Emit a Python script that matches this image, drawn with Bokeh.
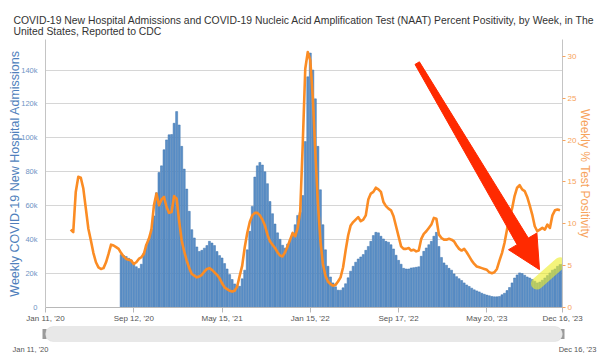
import numpy as np
from bokeh.plotting import figure
from bokeh.models import Range1d, LinearAxis, FixedTicker, BoxAnnotation, Label
from bokeh.layouts import column
from bokeh.embed import file_html
from bokeh.resources import INLINE

# ---------------- data ----------------
title_text = ("COVID-19 New Hospital Admissions and COVID-19 Nucleic Acid Amplification Test (NAAT) "
              "Percent Positivity, by Week, in The\nUnited States, Reported to CDC")
left_title = "Weekly COVID-19 New Hospital Admissions"
right_title = "Weekly % Test Positivity"

# week index 0 = Jan 11, 2020 ; last week 205 = Dec 16, 2023
tick_weeks = [0, 35, 70, 105, 140, 175, 205]
tick_labels = ["Jan 11, '20", "Sep 12, '20", "May 15, '21", "Jan 15, '22",
               "Sep 17, '22", "May 20, '23", "Dec 16, '23"]

left_ticks = [0, 20000, 40000, 60000, 80000, 100000, 120000, 140000]
left_tick_labels = ["0", "20k", "40k", "60k", "80k", "100k", "120k", "140k"]
right_ticks = [0, 5, 10, 15, 20, 25, 30]
right_tick_labels = ["0", "5", "10", "15", "20", "25", "30"]

# weekly new hospital admissions (thousands), weeks 30..205
adm_first_week = 30
admissions_k = [
    31.2, 30.6, 30.0, 29.0, 28.0, 26.5, 24.0, 23.0, 25.5, 32.0,
    37.0, 40.5, 46.0, 54.0, 67.6, 79.6, 83.5, 93.0, 98.8, 101.8,
    102.0, 108.6, 115.5, 107.6, 95.0, 81.6, 69.8, 56.7, 45.9, 41.0,
    35.7, 33.0, 33.7, 35.0, 36.5, 39.0, 38.0, 36.5, 33.0, 30.6,
    29.2, 25.9, 22.7, 19.4, 16.5, 13.9, 12.9, 12.5, 16.9, 22.0,
    34.0, 44.9, 59.6, 76.9, 83.5, 85.5, 84.0, 80.0, 73.0, 62.5,
    55.3, 49.2, 44.0, 40.2, 36.7, 35.0, 37.4, 40.0, 43.5, 48.8,
    54.3, 56.0, 66.0, 97.8, 136.0, 150.0, 140.0, 123.0, 95.0, 69.4,
    48.8, 34.0, 24.3, 18.0, 14.5, 12.2, 10.2, 10.2, 11.6, 14.0,
    17.5, 21.4, 24.3, 26.7, 28.6, 29.8, 31.2, 33.7, 36.0, 39.0,
    42.4, 44.3, 44.0, 42.0, 40.4, 39.0, 38.5, 37.0, 34.5, 30.8,
    27.8, 25.5, 23.1, 22.7, 22.7, 23.3, 23.5, 23.7, 24.0, 30.2,
    33.1, 35.1, 37.0, 39.0, 42.0, 44.3, 36.0, 29.5, 26.3, 24.9,
    23.1, 22.0, 19.8, 18.2, 17.0, 15.9, 14.5, 13.3, 12.4, 11.4,
    10.4, 9.8, 9.2, 8.4, 7.8, 7.3, 6.9, 6.5, 6.3, 6.3,
    6.5, 7.5, 8.4, 10.0, 11.8, 14.5, 17.4, 19.2, 20.4, 20.0,
    19.0, 18.0, 17.4, 16.5, 15.5, 14.5, 15.0, 16.1, 17.4, 18.8,
    20.4, 22.0, 22.7, 24.3, 25.3, 25.5,
]

# weekly NAAT percent positivity, weeks 10..204
pos_first_week = 10
positivity = [
    9.3, 9.0, 13.8, 15.6, 15.5, 14.2, 11.8, 9.4, 8.0, 6.5,
    5.4, 4.8, 4.6, 4.7, 5.4, 6.4, 7.5, 7.4, 7.2, 7.0,
    6.5, 6.1, 5.8, 5.7, 5.6, 5.2, 5.4, 5.8, 6.0, 6.4,
    7.5, 8.2, 9.3, 12.2, 13.6, 12.2, 12.9, 13.2, 12.0, 11.3,
    11.4, 13.3, 13.0, 10.3, 8.0, 6.7, 5.6, 4.7, 4.0, 3.8,
    3.6, 3.7, 3.9, 4.3, 4.6, 4.7, 4.5, 4.2, 3.9, 3.5,
    2.9, 2.4, 2.2, 2.0, 1.9, 2.0, 2.5, 3.8, 5.0, 7.2,
    8.9, 10.2, 11.0, 11.3, 11.3, 11.0, 10.5, 9.8, 8.7, 7.9,
    7.5, 7.1, 6.6, 6.2, 6.1, 6.6, 7.3, 8.1, 8.9, 8.5,
    9.5, 11.5, 19.5, 28.5, 30.5, 29.5, 25.0, 18.5, 12.5, 8.0,
    5.2, 3.8, 3.1, 2.8, 2.6, 2.7, 3.1, 3.6, 4.8, 6.8,
    8.6, 9.8, 10.2, 10.5, 10.8, 10.3, 10.5, 11.0, 12.9, 13.6,
    13.8, 14.3, 14.1, 13.8, 12.6, 12.1, 11.8, 11.6, 10.9, 9.7,
    8.5, 7.3, 7.0, 7.0, 7.1, 6.8, 6.9, 6.7, 6.8, 8.2,
    8.8, 9.1, 9.5, 9.9, 10.7, 10.6, 8.7, 8.3, 8.1, 8.1,
    8.2, 8.1, 7.9, 7.4, 7.0, 6.8, 7.0, 6.6, 6.1, 5.6,
    5.2, 4.9, 4.8, 4.7, 4.6, 4.5, 4.2, 4.1, 4.2, 4.6,
    5.6, 6.5, 7.7, 9.3, 10.8, 11.8, 13.3, 14.3, 14.6, 14.1,
    13.9, 13.2, 12.2, 11.1, 9.7, 9.1, 9.3, 9.5, 9.3, 9.9,
    9.5, 11.0, 11.6, 11.7, 11.6,
]

# ---------------- geometry / style ----------------
W, H_MAIN, H_NAV = 600, 325, 31
FRAME_L, FRAME_R, FRAME_T, FRAME_B = 45, 562, 39, 308
X0, X1 = 0, 205
LEFT_MAX = 158000
RIGHT_MAX = 32.0

BAR_FILL = "#5c90c8"
BAR_EDGE = "#3f74ae"
LINE_COLOR = "#fb8c24"
LEFT_COLOR = "#4f7fbc"
LEFT_TICK_COLOR = "#6f93c4"
RIGHT_COLOR = "#f7a35c"
FONT = "Liberation Sans"

adm_weeks = np.arange(adm_first_week, adm_first_week + len(admissions_k))
adm_values = np.array(admissions_k) * 1000.0
pos_weeks = np.arange(pos_first_week, pos_first_week + len(positivity))

p = figure(width=W, height=H_MAIN, output_backend="svg", toolbar_location=None,
           x_range=Range1d(X0, X1), y_range=Range1d(0, LEFT_MAX),
           min_border_left=FRAME_L, min_border_right=W - FRAME_R,
           min_border_top=FRAME_T, min_border_bottom=H_MAIN - FRAME_B)
p.outline_line_color = None
p.background_fill_color = "white"
p.border_fill_color = "white"

p.title.text = title_text
p.title.text_font = FONT
p.title.text_font_size = "10.4px"
p.title.text_font_style = "normal"
p.title.text_color = "#333333"
p.title.align = "left"
p.title.offset = -32
p.title.standoff = 6
p.title.text_line_height = 1.0

# left axis
ya = p.yaxis[0]
ya.ticker = FixedTicker(ticks=left_ticks)
ya.major_label_overrides = {t: s for t, s in zip(left_ticks, left_tick_labels)}
ya.axis_label = left_title
ya.axis_label_text_font = FONT
ya.axis_label_text_font_size = "12.5px"
ya.axis_label_text_font_style = "normal"
ya.axis_label_text_color = LEFT_COLOR
ya.axis_label_standoff = -4
ya.major_label_text_font = FONT
ya.major_label_text_font_size = "7.5px"
ya.major_label_text_color = LEFT_TICK_COLOR
ya.major_label_standoff = 2
ya.major_tick_line_color = None
ya.minor_tick_line_color = None
ya.axis_line_color = "#c4c4c4"

p.ygrid.ticker = FixedTicker(ticks=left_ticks)
p.ygrid.grid_line_color = "#d6d6d6"
p.xgrid.visible = False

# bottom axis
xa = p.xaxis[0]
xa.ticker = FixedTicker(ticks=tick_weeks)
xa.major_label_overrides = {t: s for t, s in zip(tick_weeks, tick_labels)}
xa.major_label_text_font = FONT
xa.major_label_text_font_size = "8px"
xa.major_label_text_color = "#555555"
xa.major_label_standoff = 1
xa.major_tick_out = 5
xa.major_tick_in = 0
xa.major_tick_line_color = "#b8b8b8"
xa.minor_tick_line_color = None
xa.axis_line_color = "#b8b8b8"

# right axis
p.extra_y_ranges = {"pct": Range1d(0, RIGHT_MAX)}
ra = LinearAxis(y_range_name="pct", ticker=FixedTicker(ticks=right_ticks))
ra.major_label_overrides = {t: s for t, s in zip(right_ticks, right_tick_labels)}
ra.axis_label = right_title
ra.axis_label_text_font = FONT
ra.axis_label_text_font_size = "12px"
ra.axis_label_text_font_style = "normal"
ra.axis_label_text_color = RIGHT_COLOR
ra.axis_label_standoff = -1
ra.major_label_text_font = FONT
ra.major_label_text_font_size = "8px"
ra.major_label_text_color = RIGHT_COLOR
ra.major_label_standoff = 2
ra.major_tick_out = 3
ra.major_tick_in = 0
ra.major_tick_line_color = RIGHT_COLOR
ra.minor_tick_line_color = None
ra.axis_line_color = "#c4c4c4"
p.add_layout(ra, "right")

# series
p.vbar(x=adm_weeks, top=adm_values, width=0.8, bottom=0,
       fill_color=BAR_FILL, line_color=BAR_EDGE, line_width=0.5)
p.line(pos_weeks, positivity, y_range_name="pct", line_color=LINE_COLOR,
       line_width=2.6, line_join="round")


# ---------------- hand-drawn annotations of the screenshot ----------------
def px_to_data(px, py):
    x = X0 + (px - FRAME_L) / (FRAME_R - FRAME_L) * (X1 - X0)
    y = (FRAME_B - py) / (FRAME_B - FRAME_T) * LEFT_MAX
    return x, y


hl = [px_to_data(536.5, 284.0), px_to_data(559.5, 263.5)]
p.line([a for a, _ in hl], [b for _, b in hl], line_color="#eded2a", line_alpha=0.62,
       line_width=12, line_cap="round")

arrow_px = [(418.9, 61.4), (527.8, 238.3), (536.4, 233.2), (539.0, 270.0),
            (508.0, 250.0), (516.6, 244.9), (414.5, 64.0)]
arrow_pts = [px_to_data(a, b) for a, b in arrow_px]
p.patch([a for a, _ in arrow_pts], [b for _, b in arrow_pts],
        fill_color="#ff2a00", line_color="#ff2a00", line_width=1)

# ---------------- navigator strip (own pixel frame, not aligned) ----------------
nav = figure(width=W, height=H_NAV, output_backend="svg", toolbar_location=None,
             x_range=Range1d(0, W), y_range=Range1d(H_NAV, 0),
             min_border_left=0, min_border_right=0, min_border_top=0, min_border_bottom=0)
if "frame_align" in nav.properties():
    nav.frame_align = False
nav.axis.visible = False
nav.grid.visible = False
nav.outline_line_color = None
nav.background_fill_color = "white"
nav.border_fill_color = "white"

nav.add_layout(BoxAnnotation(left=FRAME_L, right=FRAME_R, top=1, bottom=16,
                             border_radius=8, fill_color="#e8e8e8", fill_alpha=1.0,
                             line_color="#cfcfcf", line_width=1))
nav.rect(x=[FRAME_L - 1, FRAME_R], y=[8.5, 8.5], width=4, height=10,
         fill_color="#9a9a9a", line_color=None)
nav.add_layout(Label(x=FRAME_L, y=24, x_offset=-15, text=tick_labels[0], text_font=FONT,
                     text_font_size="7.5px", text_color="#555555",
                     text_align="center", text_baseline="middle"))
nav.add_layout(Label(x=FRAME_R, y=24, x_offset=15, text=tick_labels[-1], text_font=FONT,
                     text_font_size="7.5px", text_color="#555555",
                     text_align="center", text_baseline="middle"))

layout = column(p, nav, spacing=0)
open("out.html", "w").write(file_html(layout, INLINE))
